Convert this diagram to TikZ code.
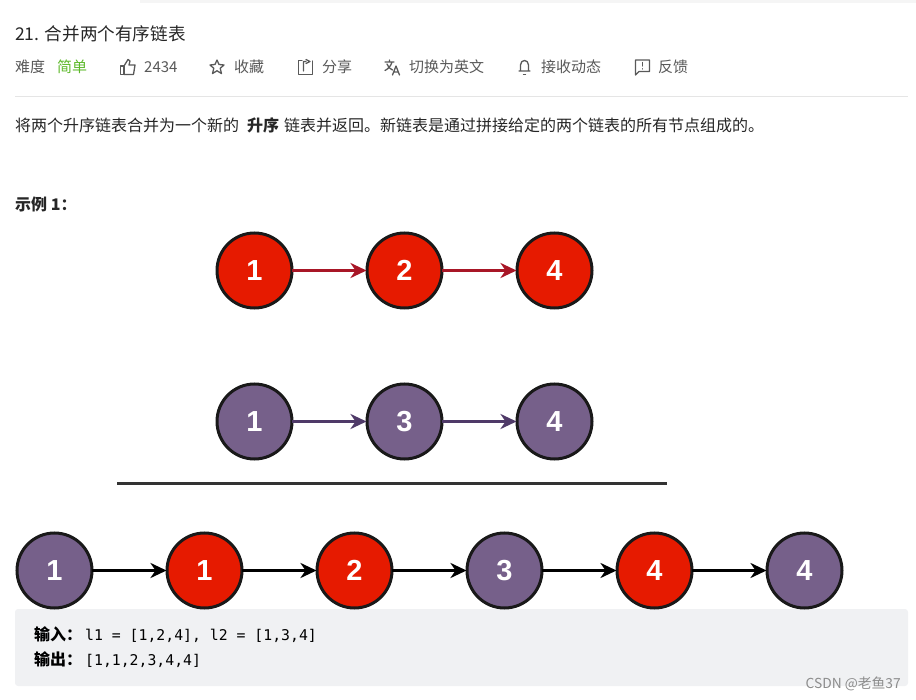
\documentclass[tikz,border=0pt]{standalone}
\usepackage{fontspec}
\setmainfont{Noto Sans CJK SC}
\setmonofont{DejaVu Sans Mono}
\newfontfamily\digitfont{Liberation Sans}
\usetikzlibrary{arrows.meta}
\definecolor{listred}{HTML}{E61A00}
\definecolor{listpurple}{HTML}{76608A}
\definecolor{redline}{HTML}{A81626}
\definecolor{purpleline}{HTML}{4F3A68}
\definecolor{metagray}{HTML}{595959}
\definecolor{codebg}{HTML}{F0F1F3}
\tikzset{
    redball/.style={circle, draw=black!90, line width=3pt, fill=listred, text=white, minimum size=75pt, inner sep=0pt, font=\digitfont\fontsize{29}{29}\selectfont\bfseries},
    purpleball/.style={redball, fill=listpurple},
    link/.style={-{Stealth[length=16pt,width=15pt,inset=5pt]}, line width=2.8pt, shorten >=-1pt, shorten <=-1.5pt},
    meta/.style={anchor=base west, inner sep=0pt, text=metagray, font=\fontsize{15}{16}\selectfont},
    body/.style={anchor=base west, inner sep=0pt, text=black!85, font=\fontsize{16}{18}\selectfont},
    code/.style={anchor=base west, inner sep=0pt, text=black, font=\ttfamily\fontsize{14.8}{17}\selectfont},
    icon/.style={draw=metagray, line width=1.3pt, line join=round, line cap=round},
}
\begin{document}
\begin{tikzpicture}[x=1pt,y=-1pt]
    \useasboundingbox (0,0) rectangle (916,700);
    % page furniture
    \fill[black!4] (140,0) rectangle (916,3);
    \draw[black!10, line width=1pt] (15,96.5) -- (908,96.5);
    \fill[codebg, rounded corners=3pt] (15,609) rectangle (908,686);
    % header
    \node[body, font=\fontsize{17.6}{19}\selectfont] (title) at (15,41) {21. 合并两个有序链表};
    \node[meta] (level) at (15,72.5) {难度};
    \node[meta, text={rgb,255:red,92;green,184;blue,42}] (easy) at (57,72.5) {简单};
    \node[meta] (likes) at (144,72.5) {2434};
    \node[meta] (fav) at (234,72.5) {收藏};
    \node[meta] (share) at (322,72.5) {分享};
    \node[meta] (lang) at (409,72.5) {切换为英文};
    \node[meta] (notify) at (541,72.5) {接收动态};
    \node[meta] (report) at (658,72.5) {反馈};
    % icons
    \draw[icon] (120.5,66) rectangle (124,74.5);
    \draw[icon] (124,66) -- (128,59.5) -- (130,61) -- (129,65) -- (135,65) -- (133.5,74.5) -- (124,74.5);
    \draw[icon] (217,60) -- (219,64.5) -- (224,65) -- (220.2,68.3) -- (221.5,73.5) -- (217,70.8) -- (212.5,73.5) -- (213.8,68.3) -- (210,65) -- (215,64.5) -- cycle;
    \draw[icon] (302,60.5) -- (298.5,60.5) -- (298.5,74.5) -- (312.5,74.5) -- (312.5,61);
    \draw[icon] (303.5,71) -- (303.5,61.5) -- (306,61.5) (306,59.5) -- (310,61.5) -- (306,63.5);
    \draw[icon] (385,62) -- (394,62) (389.5,60) -- (389.5,62) (392,62) .. controls (391,66) and (388,69) .. (385,70.5) (387,64) .. controls (388,67) and (390,69) .. (392.5,70);
    \draw[icon] (392.5,75) -- (396,66) -- (399.5,75) (393.8,72) -- (398.2,72);
    \draw[icon] (519,71) -- (530,71) (520.5,71) -- (520.5,65) .. controls (520.5,59) and (528.5,59) .. (528.5,65) -- (528.5,71);
    \draw[icon] (523.5,74.5) -- (525.5,74.5);
    \draw[icon] (639,71.5) -- (649.5,71.5) -- (649.5,60) -- (635.5,60) -- (635.5,75) -- cycle;
    \draw[icon] (642.5,62.5) -- (642.5,66) (642.5,68.8) -- (642.5,69);
    % statement
    \node[body] (intro) at (15,132) {将两个升序链表合并为一个新的};
    \node[body, font=\fontsize{16}{18}\selectfont\bfseries] (asc) at (247,132) {升序};
    \node[body] (rest) at (284,132) {链表并返回。新链表是通过拼接给定的两个链表的所有节点组成的。};
    \node[body, font=\fontsize{16}{18}\selectfont\bfseries] (example) at (15,211) {示例 1：};
    % first list
    \node[redball] (a1) at (254.5,270.5) {1};
    \node[redball] (a2) at (404.5,270.5) {2};
    \node[redball] (a4) at (554.5,270.5) {4};
    \draw[link, redline] (a1) -- (a2);
    \draw[link, redline] (a2) -- (a4);
    % second list
    \node[purpleball] (b1) at (254.5,421.5) {1};
    \node[purpleball] (b3) at (404.5,421.5) {3};
    \node[purpleball] (b4) at (554.5,421.5) {4};
    \draw[link, purpleline] (b1) -- (b3);
    \draw[link, purpleline] (b3) -- (b4);
    % rule
    \coordinate (ruleL) at (117,483);
    \coordinate (ruleR) at (667,483);
    \draw[black!80, line width=3pt] (ruleL) -- (ruleR);
    % merged list
    \node[purpleball] (m1) at (54.5,570.5) {1};
    \node[redball] (m2) at (204.5,570.5) {1};
    \node[redball] (m3) at (354.5,570.5) {2};
    \node[purpleball] (m4) at (504.5,570.5) {3};
    \node[redball] (m5) at (654.5,570.5) {4};
    \node[purpleball] (m6) at (804.5,570.5) {4};
    \draw[link] (m1) -- (m2);
    \draw[link] (m2) -- (m3);
    \draw[link] (m3) -- (m4);
    \draw[link] (m4) -- (m5);
    \draw[link] (m5) -- (m6);
    % example text
    \node[body, text=black, font=\fontsize{16}{18}\selectfont\bfseries] (inlabel) at (34,640) {输入：};
    \node[code] (inval) at (85,640) {l1 = [1,2,4], l2 = [1,3,4]};
    \node[body, text=black, font=\fontsize{16}{18}\selectfont\bfseries] (outlabel) at (34,665) {输出：};
    \node[code] (outval) at (85,665) {[1,1,2,3,4,4]};
    \node[anchor=base east, inner sep=0pt, text=black!45, font=\fontsize{13.8}{15}\selectfont] (mark) at (901,688) {CSDN @老鱼37};
\end{tikzpicture}
\end{document}
